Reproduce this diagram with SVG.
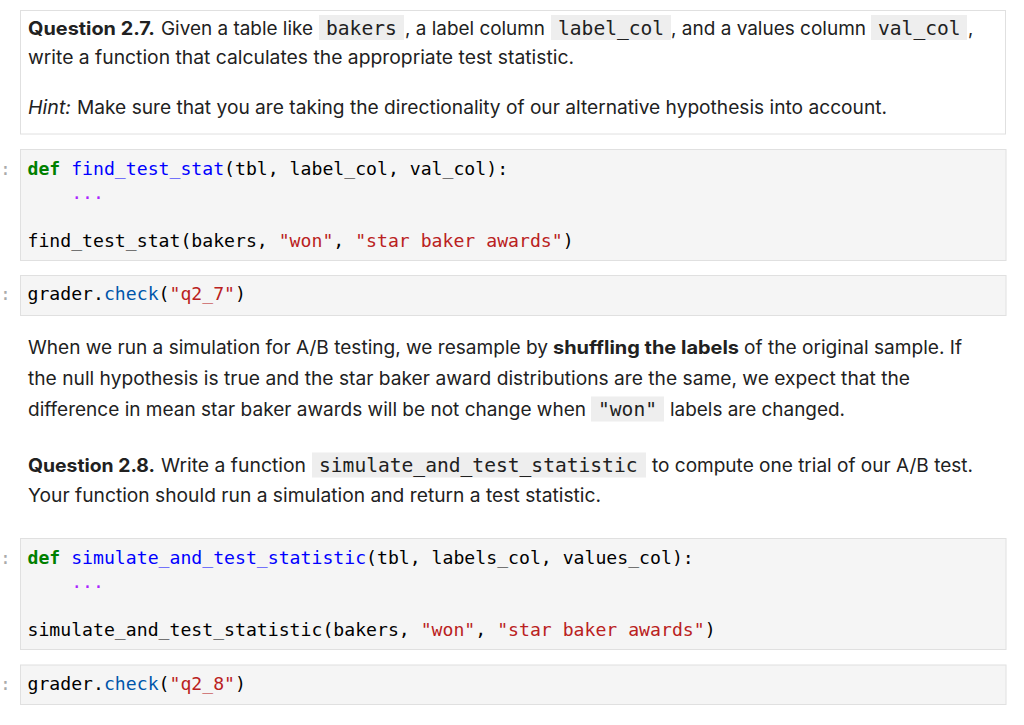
<svg xmlns="http://www.w3.org/2000/svg" width="1024" height="725" viewBox="0 0 1024 725">
<style>
.p{font-family:Inter,"Liberation Sans",sans-serif;font-size:18.5px;fill:#212121}
.b{font-weight:700}
.i{font-style:italic}
.ic{font-family:"DejaVu Sans Mono",monospace;font-size:19.6px;fill:#212121}
.icb{fill:#eeeeee}
.md{fill:#ffffff;stroke:#e0e0e0;stroke-width:1}
.cell{fill:#f5f5f5;stroke:#e0e0e0;stroke-width:1}
.c{font-family:"DejaVu Sans Mono",monospace;font-size:18.15px;fill:#000000}
.kw{fill:#008000;font-weight:700}
.fn{fill:#0000ff}
.op{fill:#aa22ff}
.st{fill:#ba2121}
.pr{fill:#0055aa}
.prompt{font-family:"DejaVu Sans Mono",monospace;font-size:18px;fill:#aaaaaa}
</style>
<rect width="1024" height="725" fill="#ffffff"/>

<g id="md-q27">
<rect class="md" x="20.5" y="10.5" width="985" height="123.5"/>
<text class="p b" x="28" y="34.5" textLength="127" lengthAdjust="spacingAndGlyphs">Question 2.7.</text>
<text class="p" x="161" y="34.5" textLength="152" lengthAdjust="spacingAndGlyphs">Given a table like</text>
<rect class="icb" x="319" y="15" width="85" height="25"/>
<text class="ic" x="326" y="34.6">bakers</text>
<text class="p" x="405" y="34.5" textLength="140" lengthAdjust="spacingAndGlyphs">, a label column</text>
<rect class="icb" x="551" y="15" width="120" height="25"/>
<text class="ic" x="558" y="34.6">label_col</text>
<text class="p" x="671" y="34.5" textLength="195" lengthAdjust="spacingAndGlyphs">, and a values column</text>
<rect class="icb" x="871" y="15" width="96" height="25"/>
<text class="ic" x="878" y="34.6">val_col</text>
<text class="p" x="968" y="34.5">,</text>
<text class="p" x="28" y="64" textLength="546" lengthAdjust="spacingAndGlyphs">write a function that calculates the appropriate test statistic.</text>
<text class="p i" x="28" y="114" textLength="43" lengthAdjust="spacingAndGlyphs">Hint:</text>
<text class="p" x="77" y="114" textLength="810" lengthAdjust="spacingAndGlyphs">Make sure that you are taking the directionality of our alternative hypothesis into account.</text>
</g>

<g id="code-find-test-stat">
<text class="prompt" x="0" y="175">:</text>
<rect class="cell" x="20.5" y="149.5" width="985.5" height="111"/>
<text class="c" x="27.5" y="174.6" xml:space="preserve"><tspan class="kw">def</tspan> <tspan class="fn">find_test_stat</tspan>(tbl, label_col, val_col):</text>
<text class="c op" x="71.2" y="199">...</text>
<text class="c" x="27.5" y="246.6" xml:space="preserve">find_test_stat(bakers, <tspan class="st">"won"</tspan>, <tspan class="st">"star baker awards"</tspan>)</text>
</g>

<g id="code-check-q27">
<text class="prompt" x="0" y="300">:</text>
<rect class="cell" x="20.5" y="275.5" width="985.5" height="40"/>
<text class="c" x="27.5" y="299.6" xml:space="preserve">grader.<tspan class="pr">check</tspan>(<tspan class="st">"q2_7"</tspan>)</text>
</g>

<g id="md-simulation">
<text class="p" x="28" y="354" textLength="520" lengthAdjust="spacingAndGlyphs">When we run a simulation for A/B testing, we resample by</text>
<text class="p b" x="553" y="354" textLength="186" lengthAdjust="spacingAndGlyphs">shuffling the labels</text>
<text class="p" x="744" y="354" textLength="218" lengthAdjust="spacingAndGlyphs">of the original sample. If</text>
<text class="p" x="28" y="385" textLength="882" lengthAdjust="spacingAndGlyphs">the null hypothesis is true and the star baker award distributions are the same, we expect that the</text>
<text class="p" x="28" y="416" textLength="558" lengthAdjust="spacingAndGlyphs">difference in mean star baker awards will be not change when</text>
<rect class="icb" x="591" y="396.5" width="73" height="25"/>
<text class="ic" x="598" y="416">"won"</text>
<text class="p" x="670" y="416" textLength="175" lengthAdjust="spacingAndGlyphs">labels are changed.</text>
</g>

<g id="md-q28">
<text class="p b" x="28" y="472" textLength="127" lengthAdjust="spacingAndGlyphs">Question 2.8.</text>
<text class="p" x="161" y="472" textLength="145" lengthAdjust="spacingAndGlyphs">Write a function</text>
<rect class="icb" x="312" y="452.5" width="334" height="25"/>
<text class="ic" x="319" y="471.6">simulate_and_test_statistic</text>
<text class="p" x="652" y="472" textLength="321" lengthAdjust="spacingAndGlyphs">to compute one trial of our A/B test.</text>
<text class="p" x="28" y="502" textLength="573" lengthAdjust="spacingAndGlyphs">Your function should run a simulation and return a test statistic.</text>
</g>

<g id="code-simulate">
<text class="prompt" x="0" y="564">:</text>
<rect class="cell" x="20.5" y="538.5" width="985.5" height="111"/>
<text class="c" x="27.5" y="563.6" xml:space="preserve"><tspan class="kw">def</tspan> <tspan class="fn">simulate_and_test_statistic</tspan>(tbl, labels_col, values_col):</text>
<text class="c op" x="71.2" y="588">...</text>
<text class="c" x="27.5" y="635.6" xml:space="preserve">simulate_and_test_statistic(bakers, <tspan class="st">"won"</tspan>, <tspan class="st">"star baker awards"</tspan>)</text>
</g>

<g id="code-check-q28">
<text class="prompt" x="0" y="689.5">:</text>
<rect class="cell" x="20.5" y="665" width="985.5" height="39.5"/>
<text class="c" x="27.5" y="689.6" xml:space="preserve">grader.<tspan class="pr">check</tspan>(<tspan class="st">"q2_8"</tspan>)</text>
</g>

<g id="connectors"/>
</svg>
